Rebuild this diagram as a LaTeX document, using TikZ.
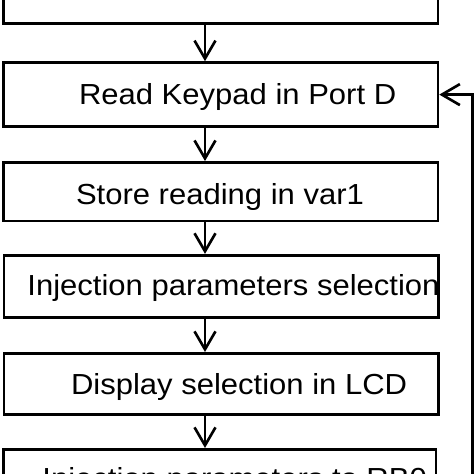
\documentclass[tikz,border=0pt]{standalone}
\usepackage{fontspec}
\setmainfont{Liberation Sans}
\usetikzlibrary{arrows.meta}

\begin{document}
\begin{tikzpicture}[x=0.02cm,y=-0.02cm,>={Straight Barb[length=0.36cm,width=0.42cm]},line width=1.5pt,
  box/.style={draw,minimum width=8.69cm,minimum height=1.22cm,inner sep=0pt},
  txt/.style={anchor=base west,inner sep=0pt,font=\fontsize{16.5}{19}\selectfont,xscale=1.07}]
\useasboundingbox (0,0) rectangle (474,474);
\clip (0,0) rectangle (474,474);
% boxes
\node[box] (start) at (220.75,-7.2) {};
\node[box,minimum height=1.284cm] (read) at (220.75,94.6) {};
\node[box,minimum height=1.174cm] (store) at (220.75,191.7) {};
\node[box,minimum height=1.24cm] (select) at (221.1,286.2) {};
\node[box] (show) at (221.1,383.8) {};
\node[box,minimum width=8.65cm] (send) at (219.75,479.8) {};
% labels
\node[txt] (readtxt) at (77.6,104) {Read Keypad in Port D};
\node[txt] (storetxt) at (74.6,204.3) {Store reading in var1};
\begin{scope}
\clip (select.south west) rectangle (select.north east);
\node[txt] (selecttxt) at (26,295.7) {Injection parameters selection};
\end{scope}
\node[txt] (showtxt) at (69.6,394.3) {Display selection in LCD};
\node[txt] (sendtxt) at (41,488) {Injection parameters to RB0};
% connectors
\coordinate (ax) at (205,0);
\draw[->] (start.south -| ax) -- (read.north -| ax);
\draw[->] (read.south -| ax) -- (store.north -| ax);
\draw[->] (store.south -| ax) -- (select.north -| ax);
\draw[->] (select.south -| ax) -- (show.north -| ax);
\draw[->] (show.south -| ax) -- (send.north -| ax);
\coordinate (fb) at (472.3,520);
\draw[->] (fb) |- (read.east);
\end{tikzpicture}
\end{document}
